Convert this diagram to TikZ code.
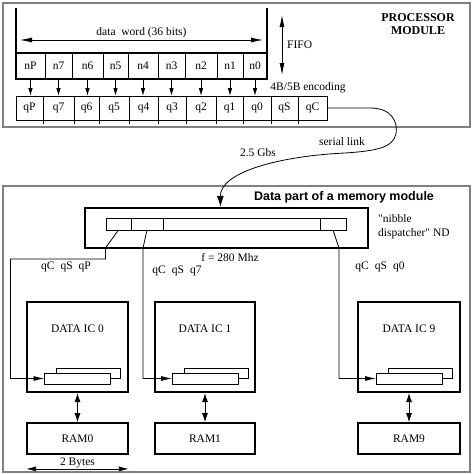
\documentclass[tikz,border=0pt]{standalone}
\usepackage{fontspec}
\setmainfont{Liberation Serif}
\newfontfamily\hvfont{Liberation Sans}
\usetikzlibrary{positioning,calc,arrows.meta}

\tikzset{
    txt/.style={inner sep=0pt},
    cell/.style={draw, line width=0.8pt, inner sep=0pt, outer sep=0pt},
    thickbox/.style={draw, line width=2.2pt, inner sep=0pt},
    rambox/.style={draw, line width=1.8pt, inner sep=0pt},
    module/.style={draw=gray, line width=1.8pt},
    wire/.style={line width=0.8pt},
    tip/.style={-{Latex[length=8pt,width=4.5pt]}},
    inarrow/.style={-{Latex[length=11pt,width=5pt]}},
    dimarrow/.style={{Latex[length=12pt,width=5pt]}-{Latex[length=12pt,width=5pt]}},
    busarrow/.style={{Latex[length=9pt,width=6pt]}-{Latex[length=9pt,width=6pt]}},
}

\begin{document}
\begin{tikzpicture}[x=1pt, y=-1pt, font=\fontsize{11.5}{14}\selectfont]
    \useasboundingbox (0,0) rectangle (474,474);

    % processor module
    \draw[module] (3,3) rectangle (470,127);
    \node[font=\fontsize{12}{13}\selectfont\bfseries, align=center] (proc) at (418,24.5) {PROCESSOR\\MODULE};

    \foreach \name/\xa/\xb in {P/16/45,7/45/72,6/72/103,5/103/128,4/128/158,3/158/185,2/185/217,1/217/243,0/243/267}
        \node[cell, minimum width={(\xb-\xa)*1pt}, minimum height=26pt] (n\name) at ({(\xa+\xb)/2},66) {n\name};
    \foreach \name/\xa/\xb in {P/16/43,7/43/74,6/74/99,5/99/129,4/129/158,3/158/186,2/186/216,1/216/243,0/243/271,S/271/298,C/298/327}
        \node[cell, minimum width={(\xb-\xa)*1pt}, minimum height=24pt] (q\name) at ({(\xa+\xb)/2},108) {q\name};
    \foreach \name in {P,7,6,5,4,3,2,1,0,S}
        \draw[wire] (q\name.south east) -- ++(0,4);

    % FIFO frame
    \draw[line width=2.2pt] (nP.north west |- 0,8) -- (nP.south west) -- (n0.south east) -- (n0.north east |- 0,8);
    \draw[line width=2.2pt] (nP.north west) -- (n0.north east);
    \draw[wire, dimarrow] (20,40) -- node[txt, above=2pt] {data\ \ word (36 bits)} (263,40);
    \draw[wire, dimarrow] (282,15) -- (282,75);
    \node[txt, anchor=west] (fifo) at (287,45) {FIFO};

    \foreach \name in {P,7,6,5,4,3,2,1,0}
        \draw[wire, tip] (n\name.south) -- (n\name.south |- q\name.north);
    \node[txt] (enc) at (308,88) {4B/5B encoding};

    % memory module
    \draw[module] (3,186) rectangle (470,472);
    \node[font=\hvfont\bfseries\fontsize{12.5}{14}\selectfont] (title) at (344,197) {Data part of a memory module};

    \node[thickbox, minimum width=283pt, minimum height=40pt] (disp) at (226.5,228) {};
    \foreach \name/\xa/\xb in {P/106/131,7/131/163,m/163/320,0/320/346}
        \node[cell, minimum width={(\xb-\xa)*1pt}, minimum height=12pt] (d\name) at ({(\xa+\xb)/2},224) {};
    \node[txt, anchor=west, align=left] (ndlabel) at (378,227) {\textquotedbl nibble\\dispatcher\textquotedbl{} ND};
    \node[txt] (freq) at (230,258) {f = 280 Mhz};

    % serial link
    \draw[wire, -{Latex[length=11pt,width=7pt]}] (qC.east) -- (370,108)
        .. controls (392,108) and (398,122) .. (396,134)
        .. controls (393,148) and (375,151) .. (345,153)
        .. controls (280,156) and (220,172) .. ([xshift=-6pt]disp.north);
    \node[txt] (serial) at (342,142) {serial link};
    \node[txt] (rate) at (258,153) {2.5 Gbs};

    % data ICs and RAMs
    \foreach \i/\cx/\bw in {0/77.5/101,1/205/100,9/409/102} {
        \node[thickbox, minimum width=\bw pt, minimum height=90pt] (ic\i) at (\cx,347) {};
        \node[txt] at ([yshift=-28pt]ic\i.north) {DATA IC \i};
        \node[cell, minimum width=64pt, minimum height=10pt, fill=white] (back\i) at (\cx+11,373) {};
        \node[cell, minimum width=66pt, minimum height=11pt, fill=white] (reg\i) at (\cx,378.5) {};
        \node[rambox, minimum width=\bw pt, minimum height=31pt] (ram\i) at (\cx,438.5) {RAM\i};
        \draw[wire, busarrow] (ic\i.south) -- (ram\i.north);
    }

    \draw[wire, inarrow] (dP.south) -- ++(-13,18) -- ++(0,11) -- ++(-95,0) |- (reg0.west);
    \draw[wire, inarrow] (d7.south) -- ++(-4,18) |- (reg1.west);
    \draw[wire, inarrow] (d0.south) -- ++(6,18) |- (reg9.west);
    \node[txt] (lab0) at (66,267) {qC\hspace{6pt}qS\hspace{6pt}qP};
    \node[txt] (lab1) at (177,271) {qC\hspace{6pt}qS\hspace{6pt}q7};
    \node[txt] (lab9) at (380,267) {qC\hspace{6pt}qS\hspace{6pt}q0};

    \draw[wire, {Latex[length=10pt,width=5pt]}-{Latex[length=10pt,width=5pt]}] ([yshift=-14pt]ram0.south west) -- node[txt, above=1pt] {2 Bytes} ([yshift=-14pt]ram0.south east);
\end{tikzpicture}
\end{document}
